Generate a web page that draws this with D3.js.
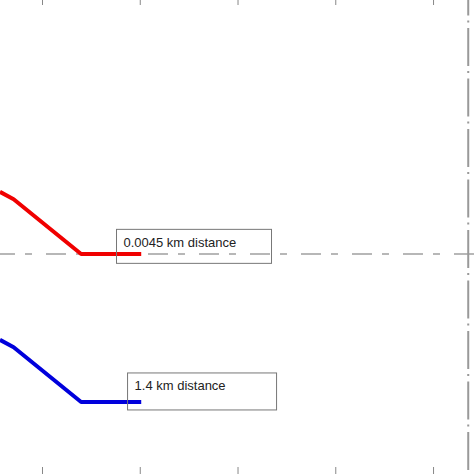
<!DOCTYPE html>
<html>
<head>
<meta charset="utf-8">
<script src="https://cdn.jsdelivr.net/npm/d3@7"></script>
<style>
  body { margin: 0; background: #fff; }
  svg { display: block; }
</style>
</head>
<body>
<svg id="chart" width="474" height="474"></svg>
<script>
// values (x in tick units, y relative to the dash-dot reference)
const xTicks = [1, 2, 3, 4, 5];
const redX = [0.57, 0.71, 1.4, 2.015];
const redY = [0.42, 0.37, 0, 0];
const blueX = [0.57, 0.71, 1.4, 2.015];
const blueY = [-0.58, -0.63, -1, -1];
const refY = 0;
const refX = 5.36;
const labels = ["0.0045 km distance", "1.4 km distance"];
const labelX = [1.757, 1.87];
const labelY = [0.17, -0.80];

const W = 474, H = 474;
const svg = d3.select("#chart");

const xScale = d3.scaleLinear()
                 .domain([0.5703, 5.419])
                 .range([0, W]);
const yScale = d3.scaleLinear()
                 .domain([1.716, -1.486])
                 .range([0, H]);

// reference lines
svg.append("line")
   .attr("x1", 0).attr("x2", W)
   .attr("y1", yScale(refY)).attr("y2", yScale(refY))
   .attr("stroke", "#a0a0a0")
   .attr("stroke-width", 1.6)
   .attr("stroke-dasharray", "20,10,7,14")
   .attr("stroke-dashoffset", 5);

svg.append("line")
   .attr("x1", xScale(refX)).attr("x2", xScale(refX))
   .attr("y1", 0).attr("y2", H)
   .attr("stroke", "#999")
   .attr("stroke-width", 2)
   .attr("stroke-dasharray", "38,5,2,5.5")
   .attr("stroke-dashoffset", 22.5);

// ticks on top and bottom edges, pointing inward
const tickAxisTop = d3.axisBottom(xScale).tickValues(xTicks).tickSize(5).tickFormat("");
const tickAxisBottom = d3.axisTop(xScale).tickValues(xTicks).tickSize(7).tickFormat("");

svg.append("g").attr("class", "x-top").call(tickAxisTop);
svg.append("g").attr("class", "x-bottom")
   .attr("transform", "translate(0," + H + ")")
   .call(tickAxisBottom);
svg.selectAll(".domain").remove();
svg.selectAll(".tick line").attr("stroke", "#888").attr("stroke-width", 1);

// curves
const line = d3.line()
               .x(d => xScale(d[0]))
               .y(d => yScale(d[1]));

svg.append("path")
   .datum(d3.zip(redX, redY))
   .attr("d", line)
   .attr("fill", "none")
   .attr("stroke", "#f00000")
   .attr("stroke-width", 4)
   .attr("stroke-linejoin", "round");

svg.append("path")
   .datum(d3.zip(blueX, blueY))
   .attr("d", line)
   .attr("fill", "none")
   .attr("stroke", "#0000dc")
   .attr("stroke-width", 4)
   .attr("stroke-linejoin", "round");

// text boxes (label position = top-left corner of the box)
const boxW = [155, 149], boxH = [34, 37];
labels.forEach((t, i) => {
  const bx = xScale(labelX[i]), by = yScale(labelY[i]);
  svg.append("rect")
     .attr("x", bx + 0.5).attr("y", by + 0.5)
     .attr("width", boxW[i]).attr("height", boxH[i])
     .attr("fill", "none")
     .attr("stroke", "#777")
     .attr("stroke-width", 1);
  svg.append("text")
     .attr("x", bx + 7.5)
     .attr("y", by + (i === 0 ? 18 : 17.5))
     .attr("font-family", "'Liberation Sans', Arial, sans-serif")
     .attr("font-size", 13)
     .attr("fill", "#222")
     .text(t);
});
</script>
</body>
</html>
